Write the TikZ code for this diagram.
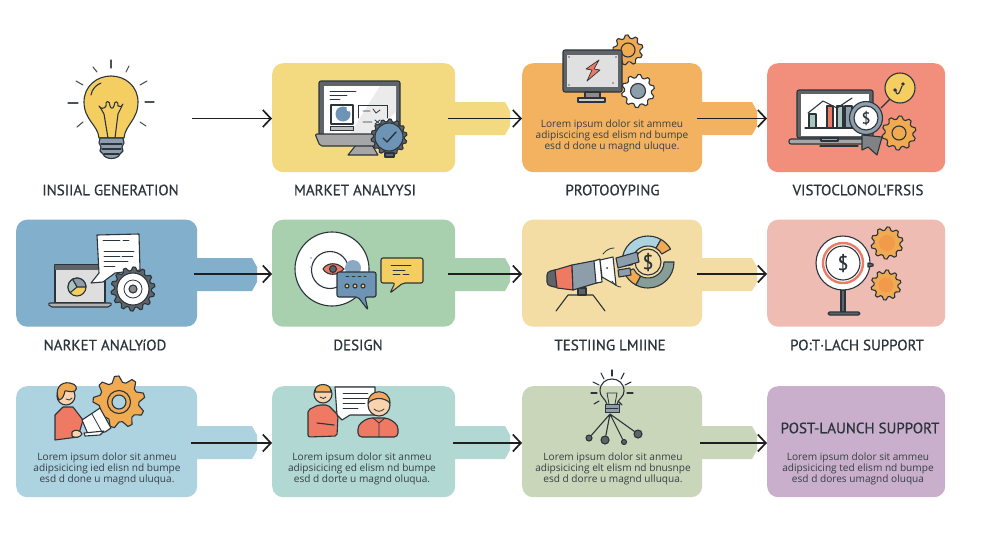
\documentclass[tikz,border=0pt]{standalone}
\usepackage{fontspec}
\setmainfont{PT Sans}[FakeBold=0.35]
\newfontfamily\bodyfont{Open Sans}
\newfontfamily\titlefont{PT Sans}[AutoFakeBold=0.6]
\usetikzlibrary{arrows.meta}
\definecolor{ink}{HTML}{2B343B}
\definecolor{cyellow}{HTML}{F3D97F}
\definecolor{corange}{HTML}{F2B25F}
\definecolor{csalmon}{HTML}{F18E7C}
\definecolor{cblue}{HTML}{82AFCC}
\definecolor{cgreen}{HTML}{A8CFAE}
\definecolor{csand}{HTML}{F3DDA5}
\definecolor{cpink}{HTML}{EFBCB4}
\definecolor{clight}{HTML}{ADD3E1}
\definecolor{cteal}{HTML}{B1D8D2}
\definecolor{csage}{HTML}{C9D6B9}
\definecolor{cpurple}{HTML}{C9AFCB}
\definecolor{gold}{HTML}{F0AB52}
\definecolor{bulbc}{HTML}{F5CE62}
\definecolor{slate}{HTML}{5F6468}
\definecolor{steel}{HTML}{6D93B5}
\definecolor{greyb}{HTML}{8D9DAA}
\definecolor{redc}{HTML}{EE7A63}
\definecolor{skin}{HTML}{F9D2AE}
\definecolor{palebar}{HTML}{A9C4BD}
\tikzset{
 card/.style={rounded corners=11pt,minimum width=#1,minimum height=108pt,inner sep=0pt,anchor=north west},
 title/.style={font=\titlefont\bfseries\fontsize{15}{17}\selectfont,text=ink,inner sep=0pt},
 lorem/.style={font=\bodyfont\fontsize{10.1}{11.2}\selectfont,text=ink!95,align=center,inner sep=0pt},
 flow/.style={line width=1.7pt,draw=black!88,-{Straight Barb[length=8pt,width=17pt,line width=1.7pt]}},
 ico/.style={line width=1.1pt,draw=ink,line join=round,line cap=round},
 thin/.style={line width=.8pt,draw=ink,line cap=round},
}
\newcommand{\gearicon}[6]{%
 \pgfmathtruncatemacro\gsamp{4*#5+1}\pgfmathtruncatemacro\gdom{4*#5}%
 \draw[ico,fill=#6] plot[domain=0:\gdom,samples=\gsamp,variable=\k]
  ({#1+(mod(round(\k),4)<2?#4:#3)*cos(90*\k/#5)},{#2+(mod(round(\k),4)<2?#4:#3)*sin(90*\k/#5)}) -- cycle;}
\newcommand{\annseg}[7]{%
 \draw[ico,fill=#7] ({#1+#4*cos(#5)},{#2+#4*sin(#5)}) arc[start angle=#5,end angle=#6,radius=#4]
  -- ({#1+#3*cos(#6)},{#2+#3*sin(#6)}) arc[start angle=#6,end angle=#5,radius=#3] -- cycle;}
\newcommand{\tabshape}[5]{%
 \fill[#1] (#2-8,#4) -- (#3-5,#4) -- (#3,#4+9) -- (#3,#5-9) -- (#3-5,#5) -- (#2-8,#5) -- cycle;}
\begin{document}
\begin{tikzpicture}[x=1pt,y=-1pt]
\useasboundingbox (0,0) rectangle (992,541);
\fill[white] (0,0) rectangle (992,541);
% cards
\node[card=183pt,fill=cyellow,minimum height=109pt] (b12) at (272,63) {};
\node[card=180pt,fill=corange,minimum height=109pt] (b13) at (522,63) {};
\node[card=178pt,fill=csalmon,minimum height=109pt] (b14) at (767,63) {};
\node[card=181pt,fill=cblue,minimum height=107pt] (b21) at (16,219.5) {};
\node[card=183pt,fill=cgreen,minimum height=107pt] (b22) at (272,219.5) {};
\node[card=180pt,fill=csand,minimum height=107pt] (b23) at (522,219.5) {};
\node[card=178pt,fill=cpink,minimum height=107pt] (b24) at (767,219.5) {};
\node[card=181pt,fill=clight,minimum height=111pt] (b31) at (16,386) {};
\node[card=183pt,fill=cteal,minimum height=111pt] (b32) at (272,386) {};
\node[card=180pt,fill=csage,minimum height=111pt] (b33) at (522,386) {};
\node[card=178pt,fill=cpurple,minimum height=111pt] (b34) at (767,386) {};
% tabs
\tabshape{cyellow}{455}{510}{102}{135}
\tabshape{corange}{702}{757}{102}{135}
\tabshape{cblue}{197}{257}{258}{291}
\tabshape{cgreen}{455}{510}{258}{291}
\tabshape{csand}{702}{757}{258}{291}
\tabshape{clight}{197}{257}{426}{459}
\tabshape{cteal}{455}{510}{426}{459}
\tabshape{csage}{702}{757}{426}{459}
% --- bulb (top left)
\draw[ico,fill=bulbc] (99,138) .. controls (98,125) and (84,120) .. (84,102)
  .. controls (84,86) and (97,76) .. (111,76) .. controls (125,76) and (138,86) .. (138,102)
  .. controls (138,120) and (125,125) .. (124,138) -- cycle;
\draw[ico] (91,95) .. controls (92,89) and (96,85) .. (101,83);
\draw[ico] (99,106) .. controls (100,109) and (105,109) .. (106,106) .. controls (105,100) and (110,100) .. (110,106)
  .. controls (111,109) and (113,109) .. (114,106) .. controls (114,100) and (119,101) .. (118,106) .. controls (120,108) and (123,106) .. (123,104);
\draw[ico] (100,107) -- (104,114) -- (108,138) (122,106) -- (118,114) -- (115,138);
\draw[ico,fill=greyb] (100,138) -- (123,138) -- (124,143) -- (122,147) -- (123,151) -- (120,154)
  .. controls (118,160) and (105,160) .. (103,154) -- (100,151) -- (101,147) -- (99,143) -- cycle;
\draw[ico] (101,144) -- (122,144) (102,149) -- (121,149) (104,154) -- (119,154);
\foreach \a/\b/\c/\d in {111/60/111/68,93/67/97/72,129/66/126/72,76/81/83/85,147/81/140/85,68/103/78/103,145/102/154/102,77/127/83/122,146/126/140/122}
  \draw[ico,draw=ink!85] (\a,\b) -- (\c,\d);
% --- monitor market analysis
\draw[ico,fill=slate,rounded corners=2pt] (319,81) rectangle (400,135);
\fill[white] (324,86) rectangle (396,134);
\fill[black!8] (380,86) -- (396,86) -- (396,112) -- (368,134) -- (350,134) -- cycle;
\draw[ico,fill=black!35] (348,155) -- (356,145) -- (372,145) -- (378,155) -- cycle;
\draw[ico,fill=black!35,rounded corners=2pt] (315,134) -- (392,134) -- (392,146) -- (320,146) -- cycle;
\draw[thin] (330,91) -- (356,91) (330,95) -- (347,95) (330,99) -- (340,99);
\draw[ico,fill=white] (331,105) rectangle (353,124);
\fill[steel] (343,114) circle (7.5);
\fill[white] (349,109) circle (2.5);
\draw[thin,fill=black!25] (330,126) rectangle (353,130);
\draw[thin] (358,118) -- (358,105) -- (387,105) -- (387,118);
\draw[thin] (363,111) -- (370,111) (373,109) -- (376,113) -- (380,110);
\draw[thin] (363,122) -- (372,122) (375,120) -- (380,124) (380,120) -- (375,124);
\gearicon{389}{137}{18}{15.5}{14}{slate}
\draw[ico,fill=steel] (389,137) circle (14);
\draw[line width=1.4pt,draw=ink,line cap=round,line join=round] (383,138) -- (387,142) -- (396,132);
\draw[ico,fill=slate] (385,153) rectangle (394,157);
% --- prototyping monitor
\gearicon{628}{50}{15}{12}{9}{gold}
\draw[ico] (628,50) circle (7);
\draw[ico,fill=slate,rounded corners=2pt] (563,50) rectangle (622,92);
\fill[black!12] (567,55) rectangle (618,87);
\fill[black!60] (569,57) circle (.8) (616,57) circle (.8) (569,85) circle (.8) (613,83) circle (.8);
\draw[line width=.7pt,draw=ink,fill=redc,line join=round] (599,60) -- (586,69) -- (592,70) -- (587,81) -- (600,70) -- (594,69) -- cycle;
\draw[ico,fill=black!45] (585,92) rectangle (600,99);
\draw[ico,fill=black!20] (578,98) rectangle (605,102);
\gearicon{638}{91}{16.5}{13.5}{10}{white}
\draw[ico,fill=greyb] (638,91) circle (7.5);
% --- visual analysis laptop
\draw[ico,fill=slate,rounded corners=2pt] (797,90) rectangle (873,138);
\fill[white] (801,94) rectangle (869,136);
\draw[ico,fill=black!35,rounded corners=2pt] (789,139) rectangle (866,144);
\draw[ico,fill=black!35] (821,138) rectangle (838,141);
\draw[ico,draw=ink] (820,146) -- (858,146);
\draw[ico,fill=palebar] (809,114) rectangle (816,128);
\draw[ico,fill=redc] (827,106) rectangle (833,128);
\draw[ico,fill=palebar] (837,106) rectangle (843,128);
\draw[ico,fill=greyb] (845,106) rectangle (852,128);
\draw[ico] (805,128) -- (858,128);
\draw[ico] (808,113) -- (823,101) -- (837,108) -- (852,98);
\draw[ico] (881,108) -- (891,98);
\draw[ico,fill=bulbc] (900,88) circle (15);
\draw[ico] (896,90) .. controls (895,95) and (899,95) .. (900,91) -- (902,86);
\fill[ink] (895,90) circle (1.8) (903,84) circle (1.8);
\draw[ico,fill=slate!80] (862,135) -- (862,150) -- (868,147) -- (877,155) -- (882,137) -- cycle;
\draw[ico,fill=greyb] (866,118) circle (16.5);
\draw[ico,fill=white] (866,118) circle (12);
\node[font=\fontsize{16}{16}\selectfont,text=ink,inner sep=0pt] (d14) at (866,118) {\$};
\gearicon{899}{133}{17}{14}{10}{gold}
\draw[ico] (899,133) circle (7);
% --- market analysis doc
\draw[ico,fill=black!13] (55,265) rectangle (105,303);
\fill[slate] (55,265) rectangle (105,270);
\draw[ico,fill=black!30,rounded corners=2pt] (48,303) -- (112,303) -- (110,307) -- (50,307) -- cycle;
\draw[ico,fill=bulbc] (77,287) circle (9);
\draw[ico,fill=greyb] (77,287) -- (86,287) arc[start angle=0,end angle=-120,radius=9] -- cycle;
\draw[ico,fill=palebar] (77,287) -- (72.5,279.2) arc[start angle=240,end angle=140,radius=9] -- cycle;
\draw[ico,fill=white] (97,235) -- (139,234) -- (140,270) -- (115,273) -- (103,282) -- (91,283) -- (99,273) -- cycle;
\draw[thin] (103,240) -- (120,240) (123,240) -- (129,240) (104,251) -- (134,251) (104,256) -- (120,256) (122,256) -- (133,256) (104,261) -- (128,261) (104,266) -- (115,266);
\gearicon{133}{289}{22}{18.5}{14}{slate}
\draw[ico,fill=white] (133,289) circle (16);
\draw[thin] (133,289) circle (9);
\draw[ico,fill=black!45] (133,289) circle (4);
% --- design
\draw[ico,fill=white] (332,269) circle (37);
\draw[ico] (330,270) circle (18.5);
\fill[steel!80] (353,268) circle (8);
\draw[ico,fill=redc] (323,269) .. controls (327,262) and (338,262) .. (344,269) .. controls (338,276) and (327,276) .. (323,269) -- cycle;
\draw[ico,fill=slate] (333,269) circle (3.5);
\fill[black!40] (311,258) circle (.8) (311,267) circle (.8);
\draw[ico,fill=steel,rounded corners=2pt] (337,272) -- (376,272) -- (376,297) -- (365,297) -- (368,310) -- (358,297) -- (337,297) -- cycle;
\draw[thin,dashed] (346,276) -- (366,276);
\foreach \q in {347,355,363} \draw[ico,fill=bulbc] (\q,286) circle (2);
\draw[ico,fill=bulbc,rounded corners=2pt] (381,258) -- (423,258) -- (423,283) -- (403,283) -- (390,293) -- (395,283) -- (381,283) -- cycle;
\draw[thin] (391,265) -- (411,265) (393,270) -- (405,270) (393,274) -- (400,274) (403,274) -- (409,274);
% --- telescope / megaphone
\annseg{648}{262}{16}{26}{170}{300}{clight}
\annseg{648}{262}{16}{26}{300}{330}{gold}
\annseg{648}{262}{16}{26}{0}{118}{palebar!80!black}
\annseg{648}{262}{16}{26}{118}{155}{gold}
\draw[ico,fill=csand] (648,262) circle (13);
\node[font=\fontsize{20}{20}\selectfont,text=ink,inner sep=0pt] (d23) at (648,262) {\$};
\draw[ico,fill=greyb] (616,258) -- (637,252) -- (639,262) -- (618,268) -- cycle;
\draw[ico,fill=greyb] (618,270) -- (630,268) -- (631,275) -- (619,277) -- cycle;
\draw[ico,fill=slate] (578,288) rectangle (586,295);
\draw[ico] (556,311) -- (568,295) -- (593,295) -- (605,311);
\draw[ico,fill=slate,rounded corners=3pt] (547,272) -- (558,269) -- (558,288) -- (547,285) -- cycle;
\draw[ico,fill=redc] (555,270) -- (572,265) -- (573,290) -- (557,288) -- cycle;
\draw[ico,fill=greyb] (572,265) -- (598,260) -- (600,282) -- (573,290) -- cycle;
\draw[ico,fill=white] (594,261) -- (600,259) -- (602,282) -- (596,283) -- cycle;
\draw[ico,fill=white] (600,260) -- (613,257) -- (616,285) -- (602,277) -- cycle;
\fill[ink] (607,268) circle (1);
\draw[thin] (603,254) .. controls (606,250) and (610,248) .. (614,248);
\draw[thin] (612,281) .. controls (614,285) and (618,287) .. (621,287);
% --- post launch magnifier
\draw[ico,fill=slate] (841,290) rectangle (845,312);
\draw[ico,fill=slate,rounded corners=1.5pt] (828,312) rectangle (860,315);
\draw[ico,fill=white] (843,263) circle (27);
\draw[line width=2.4pt,draw=redc] (843,263) circle (20);
\draw[ico,fill=white] (843,263) circle (17);
\node[font=\fontsize{20}{20}\selectfont,text=ink,inner sep=0pt] (d24) at (843,263) {\$};
\draw[ico,fill=slate] (868,263) -- (873,264) -- (873,266) -- (868,267) -- cycle;
\gearicon{887}{243}{16}{13}{10}{gold}
\fill[gold!90!red] (887,243) circle (8);
\gearicon{886}{285}{15}{12}{10}{gold}
\fill[gold!90!red] (886,285) circle (7.5);
% --- person + gear
\gearicon{119}{402}{26}{20}{9}{gold}
\draw[ico,fill=clight] (119,402) circle (7);
\draw[ico] (119,402) circle (11.5);
\draw[ico,fill=redc] (55,440) -- (55,415) -- (63,407) -- (73,407) -- (83,420) -- (78,437) -- cycle;
\draw[ico,fill=skin] (66,396) circle (9);
\draw[ico,fill=gold] (59,400) .. controls (54,390) and (60,381) .. (70,383) .. controls (76,384) and (78,388) .. (75,391) .. controls (70,393) and (66,390) .. (65,391) .. controls (64,395) and (63,399) .. (59,400) -- cycle;
\draw[thin] (66,399) .. controls (68,401) and (71,400) .. (72,398);
\draw[ico,fill=white] (82,420) -- (100,408) -- (111,428) -- (105,432) -- (88,434) -- cycle;
\draw[thin] (92,414) -- (102,432);
\draw[ico,fill=white] (84,433) -- (104,431) -- (100,435) -- (85,436) -- cycle;
\draw[ico,fill=skin] (72,432) .. controls (74,429) and (81,430) .. (82,434) .. controls (80,438) and (74,438) .. (72,436) -- cycle;
% --- two people
\draw[ico,fill=white] (335,387) -- (375,387) -- (375,415) -- (350,415) -- (342,420) -- (337,415) -- cycle;
\draw[thin] (343,393) -- (368,393) (343,398) -- (368,398) (343,403) -- (365,403) (343,408) -- (358,408);
\draw[ico,fill=redc,rounded corners=2pt] (308,437) -- (308,410) -- (318,405) -- (328,405) -- (338,415) -- (337,436) -- cycle;
\draw[ico] (317,423) -- (334,425);
\draw[ico,fill=skin] (323,394) circle (9);
\draw[ico,fill=gold] (315,392) .. controls (314,382) and (332,382) .. (331,392) -- cycle;
\draw[thin] (320,397) .. controls (322,399) and (325,399) .. (326,397);
\draw[ico,fill=redc,rounded corners=4pt] (358,437) -- (358,425) -- (368,418) -- (388,418) -- (398,425) -- (398,437) -- cycle;
\draw[ico,fill=skin] (379,405) circle (11);
\draw[ico,fill=gold] (368,403) .. controls (368,388) and (390,388) .. (390,403) .. controls (384,397) and (374,397) .. (368,403) -- cycle;
\draw[thin] (374,409) .. controls (377,412) and (381,412) .. (384,409);
\draw[thin] (373,418) -- (379,423) -- (385,418) (379,423) -- (379,437);
% --- idea network
\draw[ico] (607,404) .. controls (605,398) and (600,397) .. (600,391) .. controls (600,375) and (624,375) .. (624,391) .. controls (624,397) and (619,398) .. (617,404);
\draw[thin] (609,404) -- (607,393) (615,404) -- (617,393) (607,393) -- (617,393);
\draw[thin,fill=greyb] (605,404) rectangle (619,412);
\draw[thin] (606,408) -- (618,408);
\foreach \a/\b/\c/\d in {612/370/612/376,601/373/604/379,624/373/621/379,593/382/599/385,631/382/625/385,591/393/597/393,633/393/627/393,594/404/599/401,622/405/618/401}
 \draw[ico] (\a,\b) -- (\c,\d);
\coordinate (hub) at (610,414);
\node[ico,fill=slate,circle,inner sep=0pt,minimum size=6pt] (n1) at (589,438) {};
\node[ico,fill=slate,circle,inner sep=0pt,minimum size=8pt] (n2) at (605,440) {};
\node[ico,fill=slate,circle,inner sep=0pt,minimum size=5pt] (n3) at (624,442) {};
\node[ico,fill=slate,circle,inner sep=0pt,minimum size=8pt] (n4) at (638,434) {};
\draw[ico] (hub) -- (n1) (hub) -- (n2) (hub) -- (n3) (hub) -- (n4);
% --- labels
\node[title] (t11) at (110.5,190) {INSIIAL GENERATION};
\node[title] (t12) at (355,190) {MARKET ANALYYSI};
\node[title] (t13) at (612.5,190) {PROTOOYPING};
\node[title] (t14) at (858,190) {VISTOCLONOL'FRSIS};
\node[title] (t21) at (105,345) {NARKET ANALYíOD};
\node[title] (t22) at (358,345) {DESIGN};
\node[title] (t23) at (610,345) {TESTIING LMIINE};
\node[title] (t24) at (857,345) {PO:T·LACH SUPPORT};
\node[title] (t34) at (860,428) {POST-LAUNCH SUPPORT};
% --- body text
\node[lorem] (p13) at (612,136) {Lorem ipsum dolor sit ammeu\\adipiscicing esd elism nd bumpe\\esd d done u magnd uluque.};
\node[lorem] (p31) at (107,469) {Lorem ipsum dolor sit anmeu\\adipsicicing ied elisn nd bumpe\\esd d done u magnd uluqua.};
\node[lorem] (p32) at (362,469) {Lorem ipsum dolor sit anmeu\\adipsicicing ed elism nd bumpe\\esd d dorte u magnd oluqua.};
\node[lorem] (p33) at (613,469) {Lorem ipsum dolor sit anmeu\\adipsicicing elt elism nd bnusnpe\\esd d dorre u magnd ulluqua.};
\node[lorem] (p34) at (858,469) {Lorem ipsum dolor sit ammeu\\adipsicicing ted elism nd bumpe\\esd d dores umagnd oluqua};
% --- connectors
\coordinate (s11) at (192,118.5);
\coordinate (s12) at (448,118.5);
\coordinate (s13) at (697,118.5);
\coordinate (s21) at (194,274);
\coordinate (s22) at (448,274);
\coordinate (s23) at (697,274);
\coordinate (s31) at (191,443);
\coordinate (s32) at (453,443);
\coordinate (s33) at (700,443);
\draw[flow] (s11) -- (b12.west |- s11);
\draw[flow] (s12) -- (b13.west |- s12);
\draw[flow] (s13) -- (b14.west |- s13);
\draw[flow] (s21) -- (b22.west |- s21);
\draw[flow] (s22) -- (b23.west |- s22);
\draw[flow] (s23) -- (b24.west |- s23);
\draw[flow] (s31) -- (b32.west |- s31);
\draw[flow] (s32) -- (b33.west |- s32);
\draw[flow] (s33) -- (b34.west |- s33);
\end{tikzpicture}
\end{document}
